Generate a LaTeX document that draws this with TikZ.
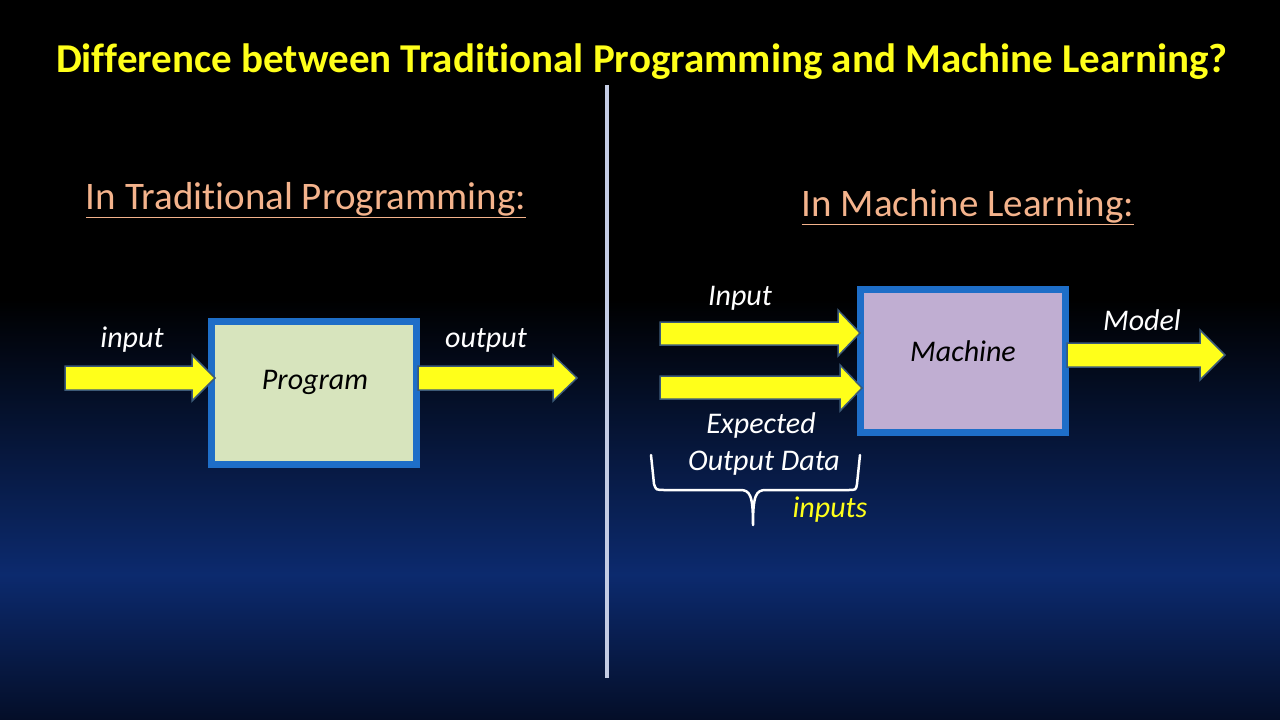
\documentclass[tikz,border=0pt]{standalone}
\usepackage{fontspec}
\setmainfont{Carlito}[Ligatures=NoCommon]
\usetikzlibrary{calc}
\definecolor{ttl}{HTML}{FFFF1A}
\definecolor{peach}{HTML}{F4B38C}
\definecolor{boxblue}{HTML}{1E6EC8}
\definecolor{arrowline}{HTML}{3C5A78}
\definecolor{divider}{HTML}{C4CCE4}
\tikzset{
  yarrow/.style={fill=ttl,draw=arrowline,line width=1.5pt,line join=miter},
  lbl/.style={text=white,font=\itshape\fontsize{30}{34}\selectfont},
  boxtxt/.style={text=black,font=\itshape\fontsize{30}{34}\selectfont},
  heading/.style={text=peach,font=\fontsize{39}{44}\selectfont},
}
\begin{document}
\begin{tikzpicture}[x=1pt,y=-1pt]
\useasboundingbox (0,0) rectangle (1280,720);
\shade[top color=black,bottom color=black] (0,0) rectangle (1280,300);
\shade[top color=black,bottom color={rgb,255:red,12;green,42;blue,110}] (0,299) rectangle (1280,575);
\shade[top color={rgb,255:red,12;green,42;blue,110},bottom color={rgb,255:red,4;green,14;blue,40}] (0,574) rectangle (1280,720);
% title
\node[text=ttl,font=\bfseries\fontsize{41}{46}\selectfont] (title) at (642,62) {Difference between Traditional Programming and Machine Learning?};
% divider
\draw[divider,line width=4pt] (607,85) -- (607,678);
% headings
\node[heading] (h1) at (306,200) {\underline{In Traditional Programming:}};
\node[heading] (h2) at (968,207) {\underline{In Machine Learning:}};
% left side
\node[draw=boxblue,line width=7pt,fill={rgb,255:red,215;green,228;blue,189},minimum width=205pt,minimum height=143pt] (prog) at (314,393) {};
\node[boxtxt] at (315,382) {Program};
\draw[yarrow] (65,366) -- (192,366) -- (192,355) -- (215,378) -- (192,401) -- (192,390) -- (65,390) -- cycle;
\draw[yarrow] (418,366) -- (553,366) -- (553,355) -- (577,378) -- (553,401) -- (553,390) -- (418,390) -- cycle;
\node[lbl] (in1) at (132,340) {input};
\node[lbl] (out1) at (486,340) {output};
% right side
\node[draw=boxblue,line width=7pt,fill={rgb,255:red,192;green,174;blue,210},minimum width=205pt,minimum height=143pt] (mach) at (963,361) {};
\node[boxtxt] at (963,351) {Machine};
\draw[yarrow] (660,322) -- (838,322) -- (838,310) -- (860,333) -- (838,356) -- (838,345) -- (660,345) -- cycle;
\draw[yarrow] (660,376) -- (840,376) -- (840,365) -- (862,388) -- (840,411) -- (840,399) -- (660,399) -- cycle;
\draw[yarrow] (1067,343) -- (1200,343) -- (1200,330) -- (1225,355) -- (1200,380) -- (1200,367) -- (1067,367) -- cycle;
\node[lbl] (in2) at (740,298) {Input};
\node[lbl] (model) at (1142,320) {Model};
\node[lbl] (exp) at (761,425) {Expected};
\node[lbl] (od) at (764,463) {Output Data};
\node[text=ttl,font=\itshape\fontsize{30}{34}\selectfont] (inputs) at (830,510) {inputs};
\draw[white,line width=2.5pt,line cap=round,line join=round]
  (651,455) -- (654,484) .. controls (656,490) .. (665,490) -- (740,490)
  .. controls (750,490) and (753,495) .. (753,525)
  .. controls (753,495) and (756,490) .. (766,490) -- (848,490)
  .. controls (856,490) .. (857,484) -- (860,455);
\end{tikzpicture}
\end{document}
